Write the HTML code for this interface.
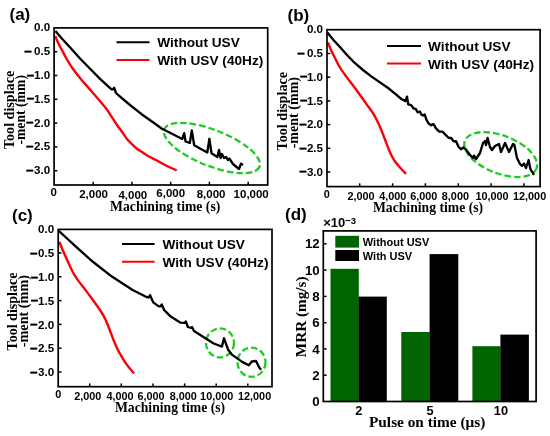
<!DOCTYPE html>
<html lang="en">
<head>
<meta charset="utf-8">
<title>Figure</title>
<style>
html,body{margin:0;padding:0;background:#fff;}
svg{display:block;}
text{fill:#000;}
.tk{font:bold 11.6px "Liberation Sans", Arial, sans-serif;}
.mn{font-size:13.4px;stroke:#000;stroke-width:0.35px;}
.xt{font:bold 10.7px "Liberation Sans", Arial, sans-serif;}
.lg{font:bold 13.65px "Liberation Sans", Arial, sans-serif;}
.pl{font:bold 17px "Liberation Sans", Arial, sans-serif;}
.ax{font:bold 13.7px "Liberation Serif", "Times New Roman", serif;}
.dt{font:bold 13.3px "Liberation Sans", Arial, sans-serif;}
.dx{font:bold 12.8px "Liberation Sans", Arial, sans-serif;}
.dl{font:bold 11px "Liberation Sans", Arial, sans-serif;}
.de{font:bold 13px "Liberation Sans", Arial, sans-serif;}
</style>
</head>
<body>
<svg width="550" height="436" viewBox="0 0 550 436">
<rect x="0" y="0" width="550" height="436" fill="#fff"/>
<g fill="none" stroke="#1fca25" stroke-width="2.3" stroke-dasharray="6.5 3"><ellipse cx="211.9" cy="148.0" rx="51.2" ry="18.0" transform="rotate(21.5 211.9 148.0)"/></g>
<polyline points="55.4,31.0 62.0,38.8 70.6,48.0 80.0,58.5 91.3,70.0 100.0,78.8 111.5,89.3 113.0,89.3 114.2,87.8 116.0,93.0 118.9,95.6 130.0,105.0 141.6,114.2 153.0,122.3 162.0,128.8 172.0,133.8 182.2,139.0 184.2,133.2 185.6,141.5 189.8,143.0 191.8,130.4 194.2,145.3 207.3,152.5 209.4,138.8 211.5,153.2 217.4,157.0 219.0,150.0 220.6,158.0 222.0,154.0 224.0,158.0 226.0,157.0 228.0,160.0 229.4,158.6 233.0,164.0 239.0,169.0 241.0,163.6 243.0,165.0" fill="none" stroke="#000" stroke-width="2.35" stroke-linejoin="round"/>
<path d="M55.2 36.1C55.8 37.3 57.3 41.0 58.5 43.5C59.7 46.0 61.0 48.3 62.4 51.0C63.8 53.7 65.3 56.6 67.0 59.5C68.7 62.4 70.4 65.2 72.7 68.5C75.0 71.8 77.9 75.5 81.0 79.2C84.1 83.0 87.2 86.2 91.3 91.0C95.4 95.8 102.5 104.0 105.7 108.0C108.9 112.0 108.7 112.4 110.6 115.2C112.5 118.0 114.9 122.0 117.0 125.0C119.1 128.0 121.3 130.9 123.0 133.2C124.7 135.5 125.6 137.3 127.0 139.0C128.4 140.7 129.8 142.0 131.3 143.5C132.8 145.0 134.3 146.6 136.0 148.0C137.7 149.4 139.4 150.4 141.6 151.8C143.8 153.2 146.6 155.1 149.0 156.5C151.4 157.9 153.2 158.5 156.0 160.0C158.8 161.5 162.6 163.8 166.0 165.5C169.4 167.2 174.9 169.5 176.7 170.3" fill="none" stroke="#fb0007" stroke-width="2.4" stroke-linejoin="round"/>
<rect x="54.1" y="27.9" width="213.6" height="157.1" fill="none" stroke="#000" stroke-width="1.7"/>
<text x="50.1" y="31.3" text-anchor="end" class="tk">0.0</text>
<line x1="54.1" x2="57.4" y1="51.7" y2="51.7" stroke="#000" stroke-width="1.5"/>
<text text-anchor="end" class="tk"><tspan x="32.1" y="55.7" class="mn">−</tspan><tspan x="50.1" y="55.1">0.5</tspan></text>
<line x1="54.1" x2="57.4" y1="75.5" y2="75.5" stroke="#000" stroke-width="1.5"/>
<text text-anchor="end" class="tk"><tspan x="34.6" y="79.5" class="mn">−</tspan><tspan x="50.1" y="78.9">1.0</tspan></text>
<line x1="54.1" x2="57.4" y1="99.3" y2="99.3" stroke="#000" stroke-width="1.5"/>
<text text-anchor="end" class="tk"><tspan x="34.6" y="103.3" class="mn">−</tspan><tspan x="50.1" y="102.7">1.5</tspan></text>
<line x1="54.1" x2="57.4" y1="123.1" y2="123.1" stroke="#000" stroke-width="1.5"/>
<text text-anchor="end" class="tk"><tspan x="33.8" y="127.1" class="mn">−</tspan><tspan x="50.1" y="126.5">2.0</tspan></text>
<line x1="54.1" x2="57.4" y1="146.9" y2="146.9" stroke="#000" stroke-width="1.5"/>
<text text-anchor="end" class="tk"><tspan x="33.8" y="150.9" class="mn">−</tspan><tspan x="50.1" y="150.3">2.5</tspan></text>
<line x1="54.1" x2="57.4" y1="170.7" y2="170.7" stroke="#000" stroke-width="1.5"/>
<text text-anchor="end" class="tk"><tspan x="33.8" y="174.7" class="mn">−</tspan><tspan x="50.1" y="174.1">3.0</tspan></text>
<text x="53.8" y="196.1" text-anchor="middle" class="xt" style="font-size:11.5px">0</text>
<line x1="93.2" x2="93.2" y1="185.0" y2="181.7" stroke="#000" stroke-width="1.5"/>
<text x="93.6" y="197.7" text-anchor="middle" class="xt" style="font-size:11.5px">2,000</text>
<line x1="131.9" x2="131.9" y1="185.0" y2="181.7" stroke="#000" stroke-width="1.5"/>
<text x="132.8" y="198.6" text-anchor="middle" class="xt" style="font-size:11.5px">4,000</text>
<line x1="170.7" x2="170.7" y1="185.0" y2="181.7" stroke="#000" stroke-width="1.5"/>
<text x="170.7" y="197.4" text-anchor="middle" class="xt" style="font-size:11.5px">6,000</text>
<line x1="209.4" x2="209.4" y1="185.0" y2="181.7" stroke="#000" stroke-width="1.5"/>
<text x="211.1" y="198.2" text-anchor="middle" class="xt" style="font-size:11.5px">8,000</text>
<line x1="248.2" x2="248.2" y1="185.0" y2="181.7" stroke="#000" stroke-width="1.5"/>
<text x="251.2" y="198.2" text-anchor="middle" class="xt" style="font-size:11.5px">10,000</text>
<line x1="116.5" x2="149.5" y1="42.2" y2="42.2" stroke="#000" stroke-width="2"/>
<line x1="116.5" x2="149.5" y1="60.0" y2="60.0" stroke="#fb0007" stroke-width="2"/>
<text x="157.3" y="47.2" class="lg">Without USV</text>
<text x="157.3" y="65.0" class="lg">With USV (40Hz)</text>
<text x="9.5" y="20" class="pl">(a)</text>
<text x="165.2" y="210.5" text-anchor="middle" class="ax">Machining time (s)</text>
<text transform="translate(13.9,149.1) rotate(-90)" class="ax" textLength="78.3" lengthAdjust="spacingAndGlyphs">Tool displace</text>
<text transform="translate(24.6,144.6) rotate(-90)" class="ax" textLength="69.6" lengthAdjust="spacingAndGlyphs">-ment (mm)</text>
<g fill="none" stroke="#1fca25" stroke-width="2.3" stroke-dasharray="6.5 3"><ellipse cx="500.7" cy="154.6" rx="38.4" ry="18.9" transform="rotate(21.3 500.7 154.6)"/></g>
<polyline points="327.4,32.4 333.0,39.5 340.6,47.7 347.0,55.0 355.0,63.2 363.0,70.0 371.6,76.6 388.1,88.0 395.0,93.6 401.4,99.0 405.4,101.1 407.0,96.6 408.2,104.3 411.1,105.1 413.5,108.3 415.9,109.1 417.5,112.3 419.9,111.5 421.5,114.7 423.1,115.5 424.7,114.4 426.3,119.5 428.7,123.6 431.1,125.2 433.6,124.2 436.0,128.4 439.2,131.6 442.4,131.6 446.4,135.6 448.8,138.0 451.2,138.0 453.6,141.2 456.0,141.2 458.5,146.8 460.9,149.3 463.3,147.5 465.7,149.3 470.0,155.0 473.0,158.0 474.0,155.6 476.0,159.0 480.0,153.0 483.0,143.0 485.0,141.0 486.0,145.0 487.6,138.0 490.0,147.0 492.0,150.0 495.0,146.0 499.0,144.0 501.0,152.0 505.0,143.0 509.0,152.0 513.0,144.0 514.4,145.0 517.0,158.0 520.0,164.0 522.0,166.0 524.0,163.6 526.0,168.0 528.6,160.0 530.4,169.0 534.0,175.0" fill="none" stroke="#000" stroke-width="2.35" stroke-linejoin="round"/>
<path d="M328.0 42.5C328.5 43.8 329.8 47.4 331.0 50.0C332.2 52.6 333.6 55.2 335.0 58.0C336.4 60.8 337.9 64.1 339.7 67.0C341.4 69.9 342.8 71.9 345.5 75.6C348.2 79.3 352.3 84.4 355.7 89.0C359.1 93.6 363.1 99.3 366.0 103.4C368.9 107.5 371.4 110.6 373.3 113.6C375.2 116.6 376.2 118.8 377.5 121.5C378.8 124.2 380.1 127.0 381.3 130.0C382.6 133.0 383.8 136.4 385.0 139.5C386.2 142.6 387.4 146.0 388.5 148.7C389.6 151.4 390.5 153.4 391.5 155.5C392.5 157.6 393.3 159.0 394.7 161.0C396.1 163.0 398.1 165.4 400.0 167.5C401.9 169.6 405.0 172.8 406.0 173.8" fill="none" stroke="#fb0007" stroke-width="2.4" stroke-linejoin="round"/>
<rect x="327.0" y="29.7" width="213.10000000000002" height="156.9" fill="none" stroke="#000" stroke-width="1.7"/>
<text x="323.0" y="33.4" text-anchor="end" class="tk">0.0</text>
<line x1="327.0" x2="330.3" y1="53.5" y2="53.5" stroke="#000" stroke-width="1.5"/>
<text text-anchor="end" class="tk"><tspan x="305.2" y="57.7" class="mn">−</tspan><tspan x="323.0" y="57.1">0.5</tspan></text>
<line x1="327.0" x2="330.3" y1="77.2" y2="77.2" stroke="#000" stroke-width="1.5"/>
<text text-anchor="end" class="tk"><tspan x="307.9" y="81.4" class="mn">−</tspan><tspan x="323.0" y="80.8">1.0</tspan></text>
<line x1="327.0" x2="330.3" y1="100.9" y2="100.9" stroke="#000" stroke-width="1.5"/>
<text text-anchor="end" class="tk"><tspan x="307.9" y="105.1" class="mn">−</tspan><tspan x="323.0" y="104.5">1.5</tspan></text>
<line x1="327.0" x2="330.3" y1="124.6" y2="124.6" stroke="#000" stroke-width="1.5"/>
<text text-anchor="end" class="tk"><tspan x="307.1" y="128.8" class="mn">−</tspan><tspan x="323.0" y="128.2">2.0</tspan></text>
<line x1="327.0" x2="330.3" y1="148.3" y2="148.3" stroke="#000" stroke-width="1.5"/>
<text text-anchor="end" class="tk"><tspan x="307.1" y="152.5" class="mn">−</tspan><tspan x="323.0" y="151.9">2.5</tspan></text>
<line x1="327.0" x2="330.3" y1="172.0" y2="172.0" stroke="#000" stroke-width="1.5"/>
<text text-anchor="end" class="tk"><tspan x="307.1" y="176.2" class="mn">−</tspan><tspan x="323.0" y="175.6">3.0</tspan></text>
<text x="326.7" y="197.7" text-anchor="middle" class="xt" style="font-size:10.85px">0</text>
<line x1="359.7" x2="359.7" y1="186.6" y2="183.29999999999998" stroke="#000" stroke-width="1.5"/>
<text x="361.0" y="199.8" text-anchor="middle" class="xt" style="font-size:10.85px">2,000</text>
<line x1="392.6" x2="392.6" y1="186.6" y2="183.29999999999998" stroke="#000" stroke-width="1.5"/>
<text x="392.8" y="199.9" text-anchor="middle" class="xt" style="font-size:10.85px">4,000</text>
<line x1="425.4" x2="425.4" y1="186.6" y2="183.29999999999998" stroke="#000" stroke-width="1.5"/>
<text x="423.8" y="199.9" text-anchor="middle" class="xt" style="font-size:10.85px">6,000</text>
<line x1="458.3" x2="458.3" y1="186.6" y2="183.29999999999998" stroke="#000" stroke-width="1.5"/>
<text x="455.4" y="200.0" text-anchor="middle" class="xt" style="font-size:10.85px">8,000</text>
<line x1="491.1" x2="491.1" y1="186.6" y2="183.29999999999998" stroke="#000" stroke-width="1.5"/>
<text x="492.0" y="200.0" text-anchor="middle" class="xt" style="font-size:10.85px">10,000</text>
<line x1="523.9" x2="523.9" y1="186.6" y2="183.29999999999998" stroke="#000" stroke-width="1.5"/>
<text x="529.6" y="200.0" text-anchor="middle" class="xt" style="font-size:10.85px">12,000</text>
<line x1="387" x2="421" y1="46.0" y2="46.0" stroke="#000" stroke-width="2"/>
<line x1="387" x2="421" y1="63.5" y2="63.5" stroke="#fb0007" stroke-width="2"/>
<text x="428.1" y="51.0" class="lg">Without USV</text>
<text x="428.1" y="68.5" class="lg">With USV (40Hz)</text>
<text x="287.5" y="20.5" class="pl">(b)</text>
<text x="428" y="211.6" text-anchor="middle" class="ax">Machining time (s)</text>
<text transform="translate(287.4,150.4) rotate(-90)" class="ax" textLength="78.4" lengthAdjust="spacingAndGlyphs">Tool displace</text>
<text transform="translate(298.4,148.3) rotate(-90)" class="ax" textLength="71.3" lengthAdjust="spacingAndGlyphs">-ment (mm)</text>
<g fill="none" stroke="#1fca25" stroke-width="2.3" stroke-dasharray="6.5 3"><ellipse cx="220" cy="342.9" rx="14.0" ry="14.5"/><ellipse cx="251.5" cy="362.2" rx="14.0" ry="14.6"/></g>
<polyline points="58.7,230.8 66.0,237.5 74.8,245.6 91.3,260.5 111.9,276.6 132.6,290.0 147.0,297.2 148.5,297.5 150.1,295.2 153.2,302.4 158.8,306.4 160.3,306.4 161.8,304.5 164.1,310.0 170.3,316.2 180.6,322.7 184.8,322.9 185.8,321.4 187.9,327.0 191.0,328.0 192.0,327.0 194.0,331.0 205.4,338.3 213.7,343.5 221.9,346.6 224.0,338.3 228.1,349.7 232.2,354.9 242.6,362.1 248.8,365.2 251.8,361.5 256.0,361.0 259.1,367.2 261.1,369.7" fill="none" stroke="#000" stroke-width="2.35" stroke-linejoin="round"/>
<path d="M59.5 241.9C59.8 242.8 60.8 245.5 61.5 247.3C62.2 249.1 62.7 249.9 63.8 252.5C64.9 255.1 66.8 259.3 68.3 262.6C69.8 265.9 71.4 269.5 72.9 272.3C74.4 275.1 75.2 276.4 77.5 279.6C79.8 282.8 84.3 288.4 86.7 291.6C89.1 294.8 89.6 295.5 92.0 298.8C94.4 302.1 98.8 308.2 101.0 311.5C103.2 314.8 103.8 316.1 105.0 318.5C106.2 320.9 106.8 322.5 108.2 326.0C109.6 329.5 112.0 336.0 113.3 339.4C114.6 342.8 115.3 344.3 116.3 346.5C117.3 348.7 117.9 350.0 119.5 352.8C121.1 355.6 123.3 359.7 125.7 363.1C128.1 366.5 132.6 371.7 134.0 373.4" fill="none" stroke="#fb0007" stroke-width="2.4" stroke-linejoin="round"/>
<rect x="58.2" y="229.4" width="213.8" height="157.29999999999998" fill="none" stroke="#000" stroke-width="1.7"/>
<text x="54.2" y="233.2" text-anchor="end" class="tk">0.0</text>
<line x1="58.2" x2="61.5" y1="252.9" y2="252.9" stroke="#000" stroke-width="1.5"/>
<text text-anchor="end" class="tk"><tspan x="37.9" y="257.6" class="mn">−</tspan><tspan x="54.2" y="257.0">0.5</tspan></text>
<line x1="58.2" x2="61.5" y1="276.8" y2="276.8" stroke="#000" stroke-width="1.5"/>
<text text-anchor="end" class="tk"><tspan x="38.7" y="281.5" class="mn">−</tspan><tspan x="54.2" y="280.9">1.0</tspan></text>
<line x1="58.2" x2="61.5" y1="300.6" y2="300.6" stroke="#000" stroke-width="1.5"/>
<text text-anchor="end" class="tk"><tspan x="38.7" y="305.3" class="mn">−</tspan><tspan x="54.2" y="304.7">1.5</tspan></text>
<line x1="58.2" x2="61.5" y1="324.4" y2="324.4" stroke="#000" stroke-width="1.5"/>
<text text-anchor="end" class="tk"><tspan x="37.9" y="329.1" class="mn">−</tspan><tspan x="54.2" y="328.5">2.0</tspan></text>
<line x1="58.2" x2="61.5" y1="348.2" y2="348.2" stroke="#000" stroke-width="1.5"/>
<text text-anchor="end" class="tk"><tspan x="37.9" y="352.9" class="mn">−</tspan><tspan x="54.2" y="352.3">2.5</tspan></text>
<line x1="58.2" x2="61.5" y1="372.0" y2="372.0" stroke="#000" stroke-width="1.5"/>
<text text-anchor="end" class="tk"><tspan x="37.9" y="376.8" class="mn">−</tspan><tspan x="54.2" y="376.1">3.0</tspan></text>
<text x="58.3" y="397.5" text-anchor="middle" class="xt" style="font-size:10.85px">0</text>
<line x1="89.7" x2="89.7" y1="386.7" y2="383.4" stroke="#000" stroke-width="1.5"/>
<text x="87.7" y="399.6" text-anchor="middle" class="xt" style="font-size:10.85px">2,000</text>
<line x1="121.3" x2="121.3" y1="386.7" y2="383.4" stroke="#000" stroke-width="1.5"/>
<text x="120.0" y="399.6" text-anchor="middle" class="xt" style="font-size:10.85px">4,000</text>
<line x1="153.0" x2="153.0" y1="386.7" y2="383.4" stroke="#000" stroke-width="1.5"/>
<text x="151.1" y="399.5" text-anchor="middle" class="xt" style="font-size:10.85px">6,000</text>
<line x1="184.6" x2="184.6" y1="386.7" y2="383.4" stroke="#000" stroke-width="1.5"/>
<text x="183.3" y="399.5" text-anchor="middle" class="xt" style="font-size:10.85px">8,000</text>
<line x1="216.2" x2="216.2" y1="386.7" y2="383.4" stroke="#000" stroke-width="1.5"/>
<text x="216.7" y="400.3" text-anchor="middle" class="xt" style="font-size:10.85px">10,000</text>
<line x1="247.8" x2="247.8" y1="386.7" y2="383.4" stroke="#000" stroke-width="1.5"/>
<text x="254.6" y="399.5" text-anchor="middle" class="xt" style="font-size:10.85px">12,000</text>
<line x1="122" x2="154.6" y1="244" y2="244" stroke="#000" stroke-width="2"/>
<line x1="122" x2="154.6" y1="261.7" y2="261.7" stroke="#fb0007" stroke-width="2"/>
<text x="162.5" y="249.0" class="lg">Without USV</text>
<text x="162.5" y="266.7" class="lg">With USV (40Hz)</text>
<text x="12" y="220.5" class="pl">(c)</text>
<text x="170" y="411.6" text-anchor="middle" class="ax">Machining time (s)</text>
<text transform="translate(17.0,350.4) rotate(-90)" class="ax" textLength="77.8" lengthAdjust="spacingAndGlyphs">Tool displace</text>
<text transform="translate(28.0,347.2) rotate(-90)" class="ax" textLength="72.2" lengthAdjust="spacingAndGlyphs">-ment (mm)</text>
<rect x="330.5" y="268.8" width="28.3" height="132.7" fill="#006400"/>
<rect x="358.6" y="296.6" width="28.2" height="104.9" fill="#000"/>
<rect x="401.3" y="332.0" width="28.5" height="69.5" fill="#006400"/>
<rect x="429.6" y="254.1" width="28.7" height="147.4" fill="#000"/>
<rect x="472.4" y="346.2" width="28.2" height="55.3" fill="#006400"/>
<rect x="500.4" y="334.6" width="28.5" height="66.9" fill="#000"/>
<rect x="323.3" y="230.9" width="212.8" height="170.6" fill="none" stroke="#000" stroke-width="1.7"/>
<text x="319.7" y="406.1" text-anchor="end" class="dt">0</text>
<line x1="323.3" x2="326.6" y1="375.2" y2="375.2" stroke="#000" stroke-width="1.5"/>
<text x="319.7" y="379.8" text-anchor="end" class="dt">2</text>
<line x1="323.3" x2="326.6" y1="348.9" y2="348.9" stroke="#000" stroke-width="1.5"/>
<text x="319.7" y="353.5" text-anchor="end" class="dt">4</text>
<line x1="323.3" x2="326.6" y1="322.7" y2="322.7" stroke="#000" stroke-width="1.5"/>
<text x="319.7" y="327.3" text-anchor="end" class="dt">6</text>
<line x1="323.3" x2="326.6" y1="296.4" y2="296.4" stroke="#000" stroke-width="1.5"/>
<text x="319.7" y="301.0" text-anchor="end" class="dt">8</text>
<line x1="323.3" x2="326.6" y1="270.1" y2="270.1" stroke="#000" stroke-width="1.5"/>
<text x="319.7" y="274.7" text-anchor="end" class="dt">10</text>
<line x1="323.3" x2="326.6" y1="243.8" y2="243.8" stroke="#000" stroke-width="1.5"/>
<text x="319.7" y="248.4" text-anchor="end" class="dt">12</text>
<text x="358.7" y="414.9" text-anchor="middle" class="dx">2</text>
<text x="430.1" y="415.4" text-anchor="middle" class="dx">5</text>
<text x="500.9" y="414.9" text-anchor="middle" class="dx">10</text>
<rect x="335.3" y="235.8" width="23.7" height="11.8" fill="#006400"/>
<rect x="335.3" y="250" width="23.7" height="11" fill="#000"/>
<text x="362.8" y="245.5" class="dl">Without USV</text>
<text x="362.8" y="259.5" class="dl">With USV</text>
<text x="323.2" y="227.4" class="de">×10<tspan dy="-3.8" font-size="9.6">−3</tspan></text>
<text x="285" y="220.3" class="pl">(d)</text>
<text x="369" y="426.7" class="ax" style="font-size:14.5px" textLength="116.3" lengthAdjust="spacingAndGlyphs">Pulse on time (μs)</text>
<text transform="translate(305.7,357.2) rotate(-90)" class="ax" style="font-size:15px" textLength="80.8" lengthAdjust="spacingAndGlyphs">MRR (mg/s)</text>
</svg>
</body>
</html>
